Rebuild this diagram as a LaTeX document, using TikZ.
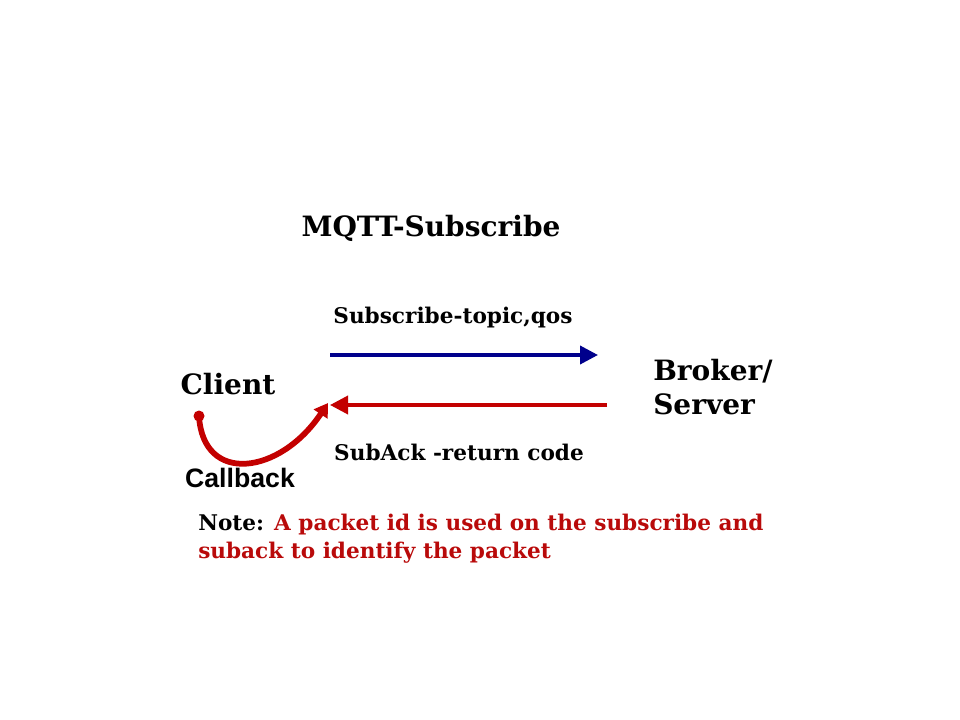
\documentclass[tikz,border=0pt]{standalone}
\usepackage{fontspec}
\setmainfont{DejaVu Serif}
\setsansfont{Liberation Sans}
\usetikzlibrary{arrows.meta}
\definecolor{arrowblue}{RGB}{0,0,140}
\definecolor{arrowred}{RGB}{195,0,0}
\definecolor{notered}{RGB}{185,10,10}
\tikzset{
	label/.style = {font=\bfseries\fontsize{16.2}{18}\selectfont, inner sep=0pt},
	party/.style = {font=\bfseries\fontsize{21}{26}\selectfont, inner sep=0pt, align=left},
}
\begin{document}
\begin{tikzpicture}[x=0.75pt, y=-0.75pt]
	\useasboundingbox[fill=white] (0,0) rectangle (960,720);
	
	\node[font=\bfseries\fontsize{21}{24}\selectfont, inner sep=0pt] (title) at (431,228) {MQTT-Subscribe};
	
	\node[label] (sublabel) at (453,318) {Subscribe-topic,qos};
	\node[label] (acklabel) at (459,452) {SubAck -return code};
	
	\node[party] (client) at (228,384) {Client};
	\node[party, anchor=west] (broker) at (653,387) {Broker/\\Server};
	
	\coordinate (substart) at (330,355);
	\coordinate (subend) at (598,355);
	\coordinate (ackstart) at (607,405);
	\coordinate (ackend) at (330,405);
	\coordinate (cbstart) at (199,416);
	
	\draw[draw = arrowblue, line width =2.8pt, -{Triangle[length=13.5pt, width=13.5pt]}] (substart) -- (subend);
	
	\draw[draw = arrowred, line width =2.8pt, -{Triangle[length=13.5pt, width=13.5pt]}] (ackstart) -- (ackend);
	
	\fill[arrowred] (cbstart) circle (5.5);
	\draw[draw = arrowred, line width =4.3pt, -{Triangle[length=10pt, width=12pt]}] (cbstart) .. controls (203,485) and (280,475) .. (328,403);
	
	\node[font=\sffamily\bfseries\fontsize{20}{24}\selectfont, inner sep=0pt] (callback) at (240,478) {Callback};
	
	\node[font=\bfseries\fontsize{16.2}{20.5}\selectfont, inner sep=0pt, anchor=north west, align=left, text=notered] (note) at (198,514) {\textcolor{black}{Note:} A packet id is used on the subscribe and\\suback to identify the packet};
	
\end{tikzpicture}
\end{document}
